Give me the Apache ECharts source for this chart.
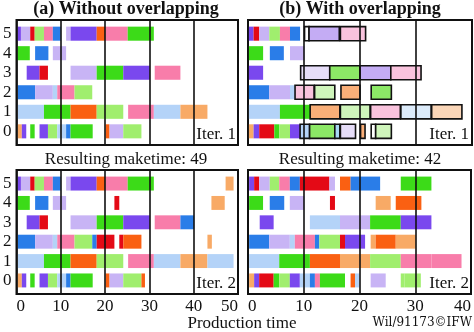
<!DOCTYPE html>
<html><head><meta charset="utf-8">
<script src="https://cdn.jsdelivr.net/npm/echarts@6/dist/echarts.min.js"></script>
<style>html,body{margin:0;padding:0;background:#fff}#c{width:474px;height:332px}</style>
</head><body><div id="c"></div>
<script>
// ---- data ----
const rowLabels = ['0','1','2','3','4','5'];
const rowValues = [0,1,2,3,4,5];
const xMaxLeft = 50;
const xMaxRight = 40;
const panelTitles = ['(a) Without overlapping', '(b) With overlapping'];
const makespanTexts = ['Resulting maketime: 49', 'Resulting maketime: 42'];
const iterLabels = ['Iter. 1', 'Iter. 2'];
const axisTitle = 'Production time';
const creditText = 'Wil/91173\u00A9IFW';

// tasks: [machine row, start, end, job]
const iter1Without = [
  [5,0.2,1,'purple'],[5,1,3.1,'lav'],[5,3.1,4.1,'red'],[5,4.1,6.2,'lgreen'],[5,6.2,8.2,'pink'],[5,8.2,10,'blue'],
  [5,11.2,12.2,'lav'],[5,12.2,18.1,'purple'],[5,18.1,20.1,'orange'],[5,20.1,25.1,'pink'],[5,25.1,31,'green'],
  [4,0.2,3,'green'],[4,4.2,7.2,'blue'],[4,8.2,11.2,'lav'],
  [3,2.3,5.2,'purple'],[3,5.2,7.1,'red'],[3,12.2,18.1,'lav'],[3,18.1,24.1,'green'],[3,24.1,30.1,'purple'],[3,31.2,37,'pink'],
  [2,0.3,4.2,'blue'],[2,4.2,8.2,'lav'],[2,8.2,9.2,'lblue'],[2,9.2,13.1,'pink'],[2,13.1,17.1,'lgreen'],
  [1,0.3,6.2,'lblue'],[1,6.2,12.2,'green'],[1,12.2,18.1,'orange'],[1,18.1,24.1,'lgreen'],[1,25.2,31,'pink'],[1,31,37,'lblue'],[1,37,43.1,'peach'],
  [0,0.2,1.2,'peach'],[0,1.2,2.2,'purple'],[0,3.1,4.1,'green'],[0,5.2,7.1,'purple'],[0,7.1,9.2,'lgreen'],[0,9.2,11.2,'lblue'],
  [0,11.2,12.2,'blue'],[0,12.2,17.2,'green'],[0,20.1,21,'orange'],[0,21,24.1,'lav'],[0,24.1,28.2,'lgreen']
];
const iter1WithPlain = [
  [5,0.1,1,'purple'],[5,1,2,'red'],[5,2,3.8,'lav'],[5,3.8,5.7,'lgreen'],[5,5.7,7.5,'pink'],[5,7.5,9.3,'blue'],
  [4,0.1,2.7,'green'],[4,3.9,6.4,'blue'],[4,7.5,10.1,'lav'],
  [3,0.1,2.7,'purple'],
  [2,0.1,3.8,'blue'],[2,3.8,7.5,'lav'],[2,7.5,8.4,'lblue'],
  [1,0.1,5.7,'lblue'],[1,5.7,11.1,'green'],
  [0,0.1,1,'peach'],[0,1,2,'purple'],[0,2,4.7,'red'],[0,4.7,5.6,'green'],[0,5.6,7.5,'lgreen'],[0,7.5,9.3,'purple']
];
const iter1WithOutlined = [
  [5,10.1,10.9,'white'],[5,10.9,16.3,'olav'],[5,16.5,21,'palepink'],
  [3,9.4,14.6,'palelav'],[3,14.6,20,'mgreen'],[3,20,25.5,'olav'],[3,25.5,30.9,'palepink'],
  [2,8.4,11.8,'palepink'],[2,11.9,15.5,'palegreen'],[2,16.6,20,'opeach'],[2,22,25.6,'mgreen'],
  [1,11.1,16.4,'opeach'],[1,16.5,21.8,'palegreen'],[1,21.9,27.2,'palepink'],[1,27.3,32.7,'paleblue'],[1,32.8,38.2,'palepeach'],
  [0,9.3,11,'lblue'],[0,11,15.5,'mgreen'],[0,15.5,16.4,'cyan'],[0,16.5,19.2,'palelav'],[0,20.1,20.9,'opeach'],[0,22,22.8,'white'],[0,22.8,25.6,'palegreen']
];
const iter2Without = [
  [5,0.2,1,'purple'],[5,1,3.1,'lav'],[5,3.1,4.1,'red'],[5,4.1,6.2,'lgreen'],[5,6.2,8.2,'pink'],[5,8.2,10,'blue'],
  [5,11.2,12.2,'lav'],[5,12.2,18.1,'purple'],[5,18.1,20.1,'orange'],[5,20.1,25.1,'pink'],[5,25.1,31,'green'],[5,47.2,49,'peach'],
  [4,0.2,3,'green'],[4,4.2,7.2,'blue'],[4,8.2,11.2,'lav'],[4,22.1,23.2,'red'],[4,44,47,'peach'],
  [3,2.3,5.2,'purple'],[3,5.2,7.1,'red'],[3,12.2,18.1,'lav'],[3,18.1,24.1,'green'],[3,24.1,30.1,'purple'],[3,31.2,37,'pink'],[3,37,40.1,'blue'],
  [2,0.3,4.2,'blue'],[2,4.2,8.2,'lav'],[2,8.2,9.2,'lblue'],[2,9.2,13.1,'pink'],[2,13.1,17.1,'lgreen'],[2,17.1,18.1,'blue'],
  [2,18.1,22.1,'red'],[2,23.2,24.1,'red'],[2,24.1,28.2,'orange'],[2,43.1,44.1,'peach'],
  [1,0.3,6.2,'lblue'],[1,6.2,12.2,'green'],[1,12.2,18.1,'orange'],[1,18.1,24.1,'lgreen'],[1,25.2,31,'pink'],[1,31,37,'lblue'],[1,37,43.1,'peach'],[1,43.1,49,'lblue'],
  [0,0.2,1.2,'peach'],[0,1.2,2.2,'purple'],[0,3.1,4.1,'green'],[0,5.2,7.1,'purple'],[0,7.1,9.2,'lgreen'],[0,9.2,11.2,'lblue'],
  [0,11.2,12.2,'blue'],[0,12.2,17.2,'green'],[0,20.1,21,'orange'],[0,21,24.1,'lav'],[0,24.1,28.2,'lgreen'],[0,28.2,29,'orange']
];
const iter2With = [
  [5,0.2,1.1,'purple'],[5,1.1,2,'red'],[5,2,3.9,'lav'],[5,3.9,5.6,'lgreen'],[5,5.6,7.5,'pink'],[5,7.5,9.3,'blue'],
  [5,9.3,14.6,'red'],[5,14.6,15.6,'lav'],[5,16.5,18.4,'orange'],[5,18.4,23.7,'blue'],[5,27.4,32.9,'green'],
  [4,0.2,2.7,'green'],[4,3.9,6.5,'blue'],[4,7.5,10.1,'lav'],[4,14.7,15.6,'red'],[4,22.9,25.6,'peach'],[4,26.5,31.1,'orange'],
  [3,2.1,4.6,'purple'],[3,11.1,16.5,'lblue'],[3,16.5,21.9,'lav'],[3,21.9,27.4,'green'],[3,27.4,32.9,'purple'],
  [2,0.2,3.8,'blue'],[2,3.8,7.5,'lav'],[2,7.5,8.4,'lblue'],[2,8.4,12,'pink'],[2,12,12.8,'blue'],[2,12.8,16.5,'lgreen'],
  [2,16.5,17.4,'red'],[2,17.4,21,'purple'],[2,22,22.9,'peach'],[2,22.9,26.5,'orange'],[2,26.5,30.1,'peach'],
  [1,0.2,5.6,'lblue'],[1,5.6,11.1,'green'],[1,11.1,16.5,'orange'],[1,16.5,21.9,'peach'],[1,21.9,27.4,'lgreen'],[1,27.4,32.9,'pink'],[1,32.9,38.3,'pink'],
  [0,0.2,1.1,'peach'],[0,1.1,2,'purple'],[0,2,4.6,'red'],[0,4.6,5.6,'green'],[0,5.6,7.5,'lgreen'],[0,7.5,9.3,'purple'],
  [0,9.3,11.1,'lblue'],[0,11.1,12,'blue'],[0,12,12.9,'pink'],[0,12.9,17.4,'green'],[0,18.4,19.2,'orange'],[0,19.2,20,'lblue'],
  [0,22,24.7,'lav'],[0,27.4,28.1,'lgreen'],[0,28.1,31,'lgreen']
];

// ---- styles ----
const palette = {
  purple:'#7a48ee', lav:'#c8b4f5', red:'#e40a16', lgreen:'#a0ee6e', pink:'#f87daa', blue:'#2a7de8',
  green:'#3cdb18', orange:'#fa6012', lblue:'#b4d3f8', peach:'#f8aa66',
  white:'#ffffff', olav:'#c4acf4', palepink:'#f9c3dd', palelav:'#e6ddf8', mgreen:'#8ce866',
  palegreen:'#cff5bb', opeach:'#f9ae78', paleblue:'#dcebfa', palepeach:'#fad6b8', cyan:'#a8d8f4'
};
const FONT = 'Liberation Serif';

function makeSeries(data, gi, outlined) {
  return {
    type: 'custom', xAxisIndex: gi, yAxisIndex: gi, z: 2,
    encode: { x: [1, 2], y: 0 },
    data: data,
    renderItem: function (params, api) {
      const row = api.value(0);
      const a = api.coord([api.value(1), row]);
      const b = api.coord([api.value(2), row]);
      const h = api.size([0, 1])[1] * 0.72;
      const cs = params.coordSys;
      const shape = echarts.graphic.clipRectByRect(
        { x: a[0], y: a[1] - h / 2, width: b[0] - a[0], height: h },
        { x: cs.x, y: cs.y, width: cs.width, height: cs.height });
      if (!shape) return;
      const job = data[params.dataIndex][3];
      return { type: 'rect', shape: shape,
        style: { fill: palette[job], stroke: outlined ? '#111' : null, lineWidth: outlined ? 1.6 : 0 } };
    }
  };
}

const grids = [
  { left: 14, top: 20, width: 224, height: 125 },
  { left: 248, top: 20, width: 224, height: 125 },
  { left: 14, top: 170, width: 224, height: 124 },
  { left: 248, top: 170, width: 224, height: 124 }
].map(g => Object.assign({ show: true, borderColor: '#111', borderWidth: 2, backgroundColor: '#fff' }, g));

const xAxes = [0, 1, 2, 3].map(i => ({
  gridIndex: i, type: 'value', min: 0, max: (i % 2 === 0) ? xMaxLeft : xMaxRight, interval: 10, z: 5,
  axisLine: { show: false }, axisTick: { show: false },
  splitLine: { show: true, lineStyle: { color: '#111', width: 1.6 } },
  axisLabel: { show: i >= 2, fontFamily: FONT, fontSize: 17, color: '#111', margin: 4,
    alignMinLabel: 'left', alignMaxLabel: 'right' }
}));
const yAxes = [0, 1, 2, 3].map(i => ({
  gridIndex: i, type: 'value', min: -0.7, max: 5.7,
  axisLine: { show: false }, axisTick: { show: false }, splitLine: { show: false },
  axisLabel: { show: i % 2 === 0, customValues: rowValues, formatter: v => rowLabels[Math.round(v)],
    fontFamily: FONT, fontSize: 17, color: '#111', margin: 5 }
}));

function txt(text, x, y, size, opts) {
  return Object.assign({ type: 'text', x: x, y: y, z: 100,
    style: Object.assign({ text: text, font: size + 'px "' + FONT + '"', fill: '#111',
      textAlign: 'center', textVerticalAlign: 'middle' }, opts || {}) });
}

const chart = echarts.init(document.getElementById('c'), null, { renderer: 'canvas' });
chart.setOption({
  animation: false,
  backgroundColor: '#fff',
  grid: grids, xAxis: xAxes, yAxis: yAxes,
  series: [
    makeSeries(iter1Without, 0, false),
    makeSeries(iter1WithPlain, 1, false),
    makeSeries(iter1WithOutlined, 1, true),
    makeSeries(iter2Without, 2, false),
    makeSeries(iter2With, 3, false)
  ],
  graphic: [
    txt(panelTitles[0], 126, 9, 18, { font: 'bold 18px "' + FONT + '"' }),
    txt(panelTitles[1], 360, 9, 18, { font: 'bold 18px "' + FONT + '"' }),
    txt(makespanTexts[0], 126, 160, 17),
    txt(makespanTexts[1], 360, 160, 17),
    txt(iterLabels[0], 236, 135, 17, { textAlign: 'right' }),
    txt(iterLabels[0], 469, 135, 17, { textAlign: 'right' }),
    txt(iterLabels[1], 236, 284, 17, { textAlign: 'right' }),
    txt(iterLabels[1], 469, 284, 17, { textAlign: 'right' }),
    txt(axisTitle, 242, 324, 17),
    { type: 'text', x: 472, y: 323, z: 100,
      style: { text: creditText, font: '12px "DejaVu Serif"', fill: '#111', textAlign: 'right', textVerticalAlign: 'middle' } }
  ]
});
</script></body></html>
